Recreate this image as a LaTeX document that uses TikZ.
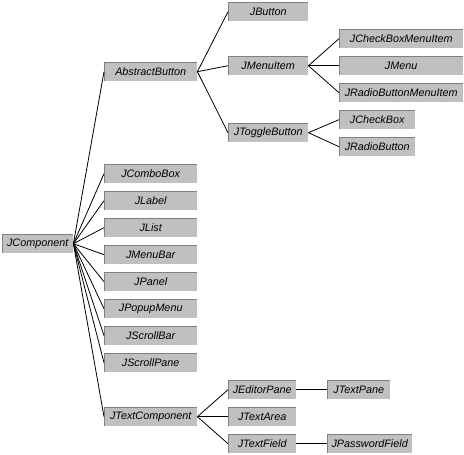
\documentclass[tikz,border=0pt]{standalone}
\usepackage{fontspec}
\setmainfont{Liberation Sans}
\usetikzlibrary{positioning}
\definecolor{boxfill}{RGB}{192,192,192}
\definecolor{boxedge}{RGB}{128,128,128}
\begin{document}
\begin{tikzpicture}[
        x=1pt, y=-1pt,
        box/.style={fill=boxfill, anchor=north west, inner sep=0pt, minimum height=19pt,
          font=\fontsize{10.8}{13}\selectfont\itshape,
          path picture={\draw[boxedge, line width=1.2pt]
            (path picture bounding box.south west) -- (path picture bounding box.north west)
            -- (path picture bounding box.north east);}},
        w1/.style={box, minimum width=71pt},
        w2/.style={box, minimum width=93pt},
        w3/.style={box, minimum width=80pt},
        w4/.style={box, minimum width=124pt},
        w5/.style={box, minimum width=76pt},
        w6/.style={box, minimum width=68pt}
      ]
      \path[use as bounding box] (0,0) rectangle (464,455);
      \node[w1] (jcomponent) at (2,234) {JComponent};
      \node[w2] (abstractbutton) at (104,62) {AbstractButton};
      \node[w2] (jcombobox) at (104,164) {JComboBox};
      \node[w2] (jlabel) at (104,191) {JLabel};
      \node[w2] (jlist) at (104,218) {JList};
      \node[w2] (jmenubar) at (104,245) {JMenuBar};
      \node[w2] (jpanel) at (104,272) {JPanel};
      \node[w2] (jpopupmenu) at (104,299) {JPopupMenu};
      \node[w2] (jscrollbar) at (104,326) {JScrollBar};
      \node[w2] (jscrollpane) at (104,353) {JScrollPane};
      \node[w2] (jtextcomponent) at (104,407) {JTextComponent};
      \node[w3] (jbutton) at (228,2) {JButton};
      \node[w3] (jmenuitem) at (228,56) {JMenuItem};
      \node[w3] (jtogglebutton) at (228,123) {JToggleButton};
      \node[w4] (jcheckboxmenuitem) at (339,29) {JCheckBoxMenuItem};
      \node[w4] (jmenu) at (339,56) {JMenu};
      \node[w4] (jradiobuttonmenuitem) at (339,83) {JRadioButtonMenuItem};
      \node[w5] (jcheckbox) at (339,110) {JCheckBox};
      \node[w5] (jradiobutton) at (339,137) {JRadioButton};
      \node[w6] (jeditorpane) at (228,380) {JEditorPane};
      \node[w6] (jtextarea) at (228,407) {JTextArea};
      \node[w6] (jtextfield) at (228,434) {JTextField};
      \node[box, minimum width=63pt] (jtextpane) at (327,380) {JTextPane};
      \node[box, minimum width=85pt] (jpasswordfield) at (327,434) {JPasswordField};
      \foreach \a/\b in {jcomponent/abstractbutton, jcomponent/jcombobox, jcomponent/jlabel,
          jcomponent/jlist, jcomponent/jmenubar, jcomponent/jpanel, jcomponent/jpopupmenu,
          jcomponent/jscrollbar, jcomponent/jscrollpane, jcomponent/jtextcomponent,
          abstractbutton/jbutton, abstractbutton/jmenuitem, abstractbutton/jtogglebutton,
          jmenuitem/jcheckboxmenuitem, jmenuitem/jmenu, jmenuitem/jradiobuttonmenuitem,
          jtogglebutton/jcheckbox, jtogglebutton/jradiobutton,
          jtextcomponent/jeditorpane, jtextcomponent/jtextarea, jtextcomponent/jtextfield,
          jeditorpane/jtextpane, jtextfield/jpasswordfield}
        \draw[line width=0.8pt] (\a.east) -- (\b.west);
\end{tikzpicture}
\end{document}
